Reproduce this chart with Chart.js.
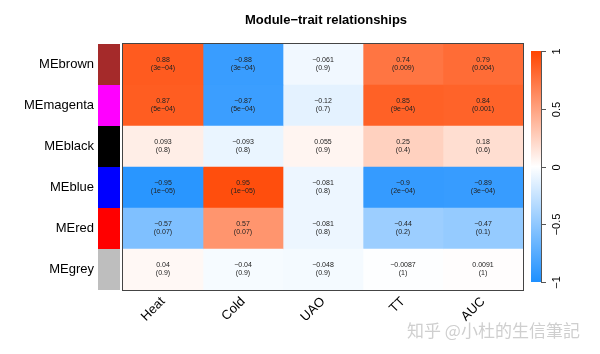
<!DOCTYPE html>
<html>
<head>
<meta charset="utf-8">
<script src="https://cdn.jsdelivr.net/npm/chart.js@4.4.1/dist/chart.umd.min.js"></script>
<style>
    html, body { margin: 0; padding: 0; background: #fff; }
    #wrap { position: relative; width: 600px; height: 354px; }
</style>
</head>
<body>
<div id="wrap"><canvas id="heatmap" width="600" height="354"></canvas></div>
<script>
// Data
const modules = ['MEbrown', 'MEmagenta', 'MEblack', 'MEblue', 'MEred', 'MEgrey'];
const moduleColors = ['#A52A2A', '#FF00FF', '#000000', '#0000FF', '#FF0000', '#BEBEBE'];
const traits = ['Heat', 'Cold', 'UAO', 'TT', 'AUC'];

// correlations, one array per trait (rows follow modules)
const corHeat = [0.88, 0.87, 0.093, -0.95, -0.57, 0.04];
const corCold = [-0.88, -0.87, -0.093, 0.95, 0.57, -0.04];
const corUAO = [-0.061, -0.12, 0.055, -0.081, -0.081, -0.048];
const corTT = [0.74, 0.85, 0.25, -0.9, -0.44, -0.0087];
const corAUC = [0.79, 0.84, 0.18, -0.89, -0.47, 0.0091];

// p-values
const pHeat = [3e-4, 5e-4, 0.8, 1e-5, 0.07, 0.9];
const pCold = [3e-4, 5e-4, 0.8, 1e-5, 0.07, 0.9];
const pUAO = [0.9, 0.7, 0.9, 0.8, 0.8, 0.9];
const pTT = [0.009, 9e-4, 0.4, 2e-4, 0.2, 1];
const pAUC = [0.004, 0.001, 0.6, 3e-4, 0.1, 1];

const colorbarTicks = [-1, -0.5, 0, 0.5, 1];

const corCols = [corHeat, corCold, corUAO, corTT, corAUC];
const pCols = [pHeat, pCold, pUAO, pTT, pAUC];

const FONT = "'Liberation Sans', Arial, Helvetica, sans-serif";

// blue - white - orangered ramp
const blueEnd = [30, 144, 255];
const redEnd = [255, 69, 0];
function corColor(v) {
    const end = v < 0 ? blueEnd : redEnd;
    const t = Math.min(1, Math.abs(v));
    const c = end.map(e => Math.round(255 + (e - 255) * t));
    return `rgb(${c[0]},${c[1]},${c[2]})`;
}

const minus = s => s.replace(/-/g, '\u2212');
function fmtP(p) {
    if (p < 0.001) {
        const [m, e] = p.toExponential(0).split('e');
        const exp = Math.abs(parseInt(e, 10));
        return m + 'e-' + (exp < 10 ? '0' + exp : exp);
    }
    return String(p);
}

// Title, module strip, cell labels, colour key, border
const decorations = {
    id: 'decorations',
    afterDatasetsDraw(chart) {
        const { ctx, chartArea: a, scales } = chart;
        ctx.save();

        // module colour strip
        const yScale = scales.y;
        const rowH = (a.bottom - a.top) / modules.length;
        modules.forEach((m, i) => {
            const yc = yScale.getPixelForValue(i);
            ctx.fillStyle = moduleColors[i];
            ctx.fillRect(98, yc - rowH / 2, 22, rowH);
        });

        // cell labels
        ctx.fillStyle = '#222';
        ctx.font = `7px ${FONT}`;
        ctx.textAlign = 'center';
        ctx.textBaseline = 'middle';
        chart.data.datasets.forEach((ds, c) => {
            chart.getDatasetMeta(c).data.forEach((el, r) => {
                const x = (el.x + el.base) / 2;
                ctx.fillText(minus(String(corCols[c][r])), x, el.y - 4);
                ctx.fillText('(' + minus(fmtP(pCols[c][r])) + ')', x, el.y + 4);
            });
        });

        // plot border
        ctx.strokeStyle = '#444';
        ctx.lineWidth = 1;
        ctx.strokeRect(a.left - 0.5, a.top - 0.5, a.right - a.left + 1, a.bottom - a.top + 1);

        // title
        ctx.fillStyle = '#000';
        ctx.font = `bold 13px ${FONT}`;
        ctx.textAlign = 'center';
        ctx.textBaseline = 'middle';
        ctx.fillText('Module\u2212trait relationships', (a.left + a.right) / 2 + 3, 20);

        // colour key
        const cbL = 531, cbR = 541, cbT = 51, cbB = 282;
        const grad = ctx.createLinearGradient(0, cbB, 0, cbT);
        grad.addColorStop(0, corColor(-1));
        grad.addColorStop(0.5, corColor(0));
        grad.addColorStop(1, corColor(1));
        ctx.fillStyle = grad;
        ctx.fillRect(cbL, cbT, cbR - cbL, cbB - cbT);
        ctx.strokeStyle = '#555';
        ctx.beginPath();
        ctx.moveTo(cbR + 0.5, cbT);
        ctx.lineTo(cbR + 0.5, cbB);
        ctx.stroke();
        ctx.fillStyle = '#000';
        ctx.font = `11px ${FONT}`;
        colorbarTicks.forEach(t => {
            const y = Math.round(cbB - (t + 1) / 2 * (cbB - cbT)) + 0.5;
            ctx.beginPath();
            ctx.moveTo(cbR, y);
            ctx.lineTo(cbR + 5, y);
            ctx.stroke();
            ctx.save();
            ctx.translate(557, y);
            ctx.rotate(-Math.PI / 2);
            ctx.textAlign = 'center';
            ctx.textBaseline = 'middle';
            ctx.fillText(minus(String(t)), 0, 0);
            ctx.restore();
        });

        // watermark
        ctx.fillStyle = '#cfcfcf';
        ctx.font = `17px 'Noto Sans CJK SC', sans-serif`;
        ctx.textAlign = 'left';
        ctx.fillText('知乎 @小杜的生信筆記', 407, 331);

        ctx.restore();
    }
};

const datasets = traits.map((t, c) => ({
    label: t,
    data: modules.map(() => [c, c + 1]),
    backgroundColor: corCols[c].map(corColor),
    borderWidth: 0,
    barPercentage: 1,
    categoryPercentage: 1,
    grouped: false
}));

new Chart(document.getElementById('heatmap'), {
    type: 'bar',
    data: { labels: modules, datasets: datasets },
    options: {
        indexAxis: 'y',
        responsive: false,
        animation: false,
        layout: { padding: { top: 44, right: 77, bottom: 0, left: 0 } },
        plugins: {
            legend: { display: false },
            tooltip: { enabled: false },
            title: { display: false }
        },
        scales: {
            x: {
                type: 'linear',
                min: 0,
                max: traits.length,
                grid: { display: false },
                border: { display: false },
                afterBuildTicks: axis => {
                    axis.ticks = traits.map((t, i) => ({ value: i + 0.5 }));
                },
                afterFit: axis => { axis.height = 64; },
                ticks: {
                    autoSkip: false,
                    minRotation: 45,
                    maxRotation: 45,
                    padding: -4,
                    color: '#000',
                    font: { family: FONT, size: 13 },
                    callback: v => traits[Math.floor(v)]
                }
            },
            y: {
                type: 'category',
                grid: { display: false, drawTicks: false },
                border: { display: false },
                afterFit: axis => { axis.width = 123; },
                ticks: {
                    padding: 29,
                    color: '#000',
                    font: { family: FONT, size: 13 }
                }
            }
        }
    },
    plugins: [decorations]
});
</script>
</body>
</html>
